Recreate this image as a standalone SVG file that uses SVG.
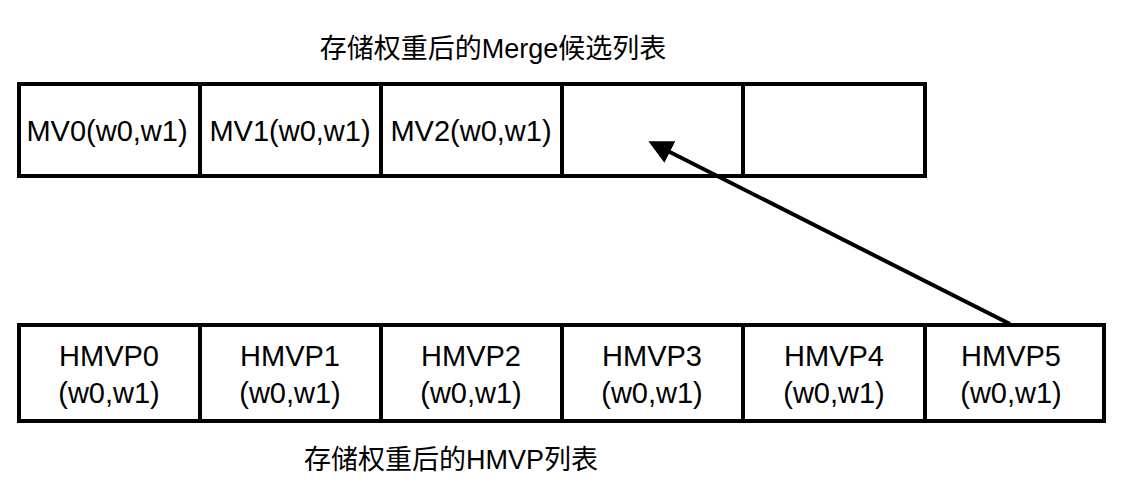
<svg xmlns="http://www.w3.org/2000/svg" width="1126" height="492" viewBox="0 0 1126 492">
<style>
.c{fill:#fff;stroke:#000;stroke-width:4}
text{font-family:"Liberation Sans","Noto Sans CJK SC",sans-serif;font-size:29px;fill:#000;text-anchor:middle}
.t{font-size:27px}
</style>
<defs><marker id="a" markerWidth="6" markerHeight="6" refX="5" refY="3" orient="auto" markerUnits="strokeWidth"><path d="M0,0L6,3L0,6z"/></marker></defs>
<rect width="1126" height="492" fill="#fff"/>
<text class="t" x="493" y="58">存储权重后的Merge候选列表</text>
<g id="mv0"><rect class="c" x="19" y="84" width="181" height="92"/><text x="107" y="141">MV0(w0,w1)</text></g>
<g id="mv1"><rect class="c" x="200" y="84" width="181" height="92"/><text x="290" y="141">MV1(w0,w1)</text></g>
<g id="mv2"><rect class="c" x="381" y="84" width="181" height="92"/><text x="471" y="141">MV2(w0,w1)</text></g>
<g id="mv3"><rect class="c" x="562" y="84" width="181" height="92"/></g>
<g id="mv4"><rect class="c" x="743" y="84" width="182" height="92"/></g>
<g id="h0"><rect class="c" x="19" y="325" width="181" height="96"/><text x="109" y="366">HMVP0</text><text x="109" y="403">(w0,w1)</text></g>
<g id="h1"><rect class="c" x="200" y="325" width="181" height="96"/><text x="290" y="366">HMVP1</text><text x="290" y="403">(w0,w1)</text></g>
<g id="h2"><rect class="c" x="381" y="325" width="181" height="96"/><text x="471" y="366">HMVP2</text><text x="471" y="403">(w0,w1)</text></g>
<g id="h3"><rect class="c" x="562" y="325" width="181" height="96"/><text x="652" y="366">HMVP3</text><text x="652" y="403">(w0,w1)</text></g>
<g id="h4"><rect class="c" x="743" y="325" width="182" height="96"/><text x="834" y="366">HMVP4</text><text x="834" y="403">(w0,w1)</text></g>
<g id="h5"><rect class="c" x="925" y="325" width="179" height="96"/><text x="1011" y="366">HMVP5</text><text x="1011" y="403">(w0,w1)</text></g>
<text class="t" x="451" y="469">存储权重后的HMVP列表</text>
<g id="connectors"><line x1="1010" y1="324" x2="652" y2="143" stroke="#000" stroke-width="4" marker-end="url(#a)"/></g>
</svg>
